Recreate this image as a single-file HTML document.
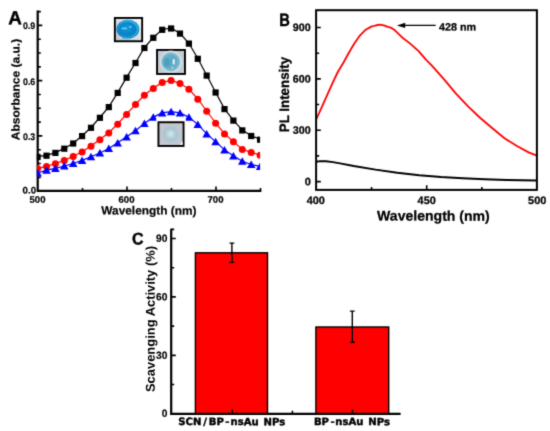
<!DOCTYPE html>
<html lang="en"><head><meta charset="utf-8"><title>Figure</title>
<style>html,body{margin:0;padding:0;background:#fff}svg{display:block}</style>
</head><body>
<svg width="550" height="431" viewBox="0 0 550 431">
<defs>
<clipPath id="clipA"><rect x="36.8" y="5" width="223.3" height="186.5"/></clipPath>
<radialGradient id="g1" cx="0.45" cy="0.4" r="0.6"><stop offset="0" stop-color="#1198d8"/><stop offset="0.7" stop-color="#0a84c8"/><stop offset="1" stop-color="#0a7cc0"/></radialGradient>
<radialGradient id="g2" cx="0.5" cy="0.5" r="0.5"><stop offset="0" stop-color="#52a8c6"/><stop offset="0.7" stop-color="#64aec8"/><stop offset="1" stop-color="#9cc2d2"/></radialGradient>
<radialGradient id="g3" cx="0.5" cy="0.5" r="0.5"><stop offset="0" stop-color="#d4e8ee"/><stop offset="0.6" stop-color="#a8c6d2"/><stop offset="1" stop-color="#c2c8d0"/></radialGradient>
<linearGradient id="bg1" x1="1" y1="0" x2="0" y2="1"><stop offset="0" stop-color="#f6f7f9"/><stop offset="0.5" stop-color="#dcdfe4"/><stop offset="1" stop-color="#c2c6ce"/></linearGradient>
<filter id="soft" x="-2%" y="-2%" width="104%" height="104%" color-interpolation-filters="sRGB"><feConvolveMatrix order="3" kernelMatrix="0.01960 0.10080 0.01960 0.10080 0.51840 0.10080 0.01960 0.10080 0.01960" divisor="1" edgeMode="duplicate" preserveAlpha="true"/></filter>
</defs>
<rect width="550" height="431" fill="#ffffff"/>
<g filter="url(#soft)">
<rect x="-5" y="-5" width="560" height="441" fill="#ffffff"/>
<g id="panelA">
<path d="M37.7,10.6 V191.9 M36.6,190.8 H261.3" stroke="#000" stroke-width="2.2" fill="none"/>
<path d="M37.7,177.34 H40.8 M37.7,163.53 H40.8 M37.7,149.71 H40.8 M37.7,135.90 H42.3 M37.7,122.09 H40.8 M37.7,108.28 H40.8 M37.7,94.46 H40.8 M37.7,80.65 H42.3 M37.7,66.84 H40.8 M37.7,53.03 H40.8 M37.7,39.21 H40.8 M37.7,25.40 H42.3 M37.7,11.59 H40.8 M82.50,190.8 V187.9 M127.00,190.8 V186.6 M171.50,190.8 V187.9 M216.00,190.8 V186.6 M260.50,190.8 V187.9" stroke="#000" stroke-width="1.6" fill="none"/>
<g clip-path="url(#clipA)">
<polyline points="37.6,156.7 46.5,155.4 55.4,152.6 64.3,148.4 73.2,143.2 82.1,135.8 91.0,127.5 99.9,117.5 108.8,106.8 117.7,92.6 126.6,77.4 135.5,62.7 144.4,47.7 153.3,37.5 162.2,29.5 171.1,28.2 180.0,33.3 188.9,43.3 197.8,58.5 206.7,75.3 215.6,92.2 224.5,108.8 233.4,120.3 242.3,130.1 251.2,135.7 260.1,139.4" fill="none" stroke="#000" stroke-width="1.2"/>
<rect x="34.50" y="153.90" width="6.2" height="6.2" fill="#000"/>
<rect x="43.40" y="152.60" width="6.2" height="6.2" fill="#000"/>
<rect x="52.30" y="149.80" width="6.2" height="6.2" fill="#000"/>
<rect x="61.20" y="145.60" width="6.2" height="6.2" fill="#000"/>
<rect x="70.10" y="140.40" width="6.2" height="6.2" fill="#000"/>
<rect x="79.00" y="133.00" width="6.2" height="6.2" fill="#000"/>
<rect x="87.90" y="124.70" width="6.2" height="6.2" fill="#000"/>
<rect x="96.80" y="114.70" width="6.2" height="6.2" fill="#000"/>
<rect x="105.70" y="104.00" width="6.2" height="6.2" fill="#000"/>
<rect x="114.60" y="89.80" width="6.2" height="6.2" fill="#000"/>
<rect x="123.50" y="74.60" width="6.2" height="6.2" fill="#000"/>
<rect x="132.40" y="59.90" width="6.2" height="6.2" fill="#000"/>
<rect x="141.30" y="44.90" width="6.2" height="6.2" fill="#000"/>
<rect x="150.20" y="34.70" width="6.2" height="6.2" fill="#000"/>
<rect x="159.10" y="26.70" width="6.2" height="6.2" fill="#000"/>
<rect x="168.00" y="25.40" width="6.2" height="6.2" fill="#000"/>
<rect x="176.90" y="30.50" width="6.2" height="6.2" fill="#000"/>
<rect x="185.80" y="40.50" width="6.2" height="6.2" fill="#000"/>
<rect x="194.70" y="55.70" width="6.2" height="6.2" fill="#000"/>
<rect x="203.60" y="72.50" width="6.2" height="6.2" fill="#000"/>
<rect x="212.50" y="89.40" width="6.2" height="6.2" fill="#000"/>
<rect x="221.40" y="106.00" width="6.2" height="6.2" fill="#000"/>
<rect x="230.30" y="117.50" width="6.2" height="6.2" fill="#000"/>
<rect x="239.20" y="127.30" width="6.2" height="6.2" fill="#000"/>
<rect x="248.10" y="132.90" width="6.2" height="6.2" fill="#000"/>
<rect x="257.00" y="136.60" width="6.2" height="6.2" fill="#000"/>
<polyline points="37.6,168.4 46.5,166.3 55.4,163.5 64.3,160.4 73.2,156.3 82.1,151.7 91.0,146.0 99.9,139.5 108.8,132.8 117.7,124.0 126.6,114.2 135.5,104.3 144.4,95.0 153.3,88.2 162.2,82.4 171.1,80.4 180.0,83.2 188.9,89.1 197.8,99.0 206.7,111.0 215.6,123.0 224.5,133.8 233.4,141.6 242.3,149.3 251.2,152.4 260.1,155.0" fill="none" stroke="#ff0000" stroke-width="1.2"/>
<circle cx="37.6" cy="168.6" r="3.5" fill="#ff0000"/>
<circle cx="46.5" cy="166.5" r="3.5" fill="#ff0000"/>
<circle cx="55.4" cy="163.7" r="3.5" fill="#ff0000"/>
<circle cx="64.3" cy="160.6" r="3.5" fill="#ff0000"/>
<circle cx="73.2" cy="156.5" r="3.5" fill="#ff0000"/>
<circle cx="82.1" cy="151.9" r="3.5" fill="#ff0000"/>
<circle cx="91.0" cy="146.2" r="3.5" fill="#ff0000"/>
<circle cx="99.9" cy="139.7" r="3.5" fill="#ff0000"/>
<circle cx="108.8" cy="133.0" r="3.5" fill="#ff0000"/>
<circle cx="117.7" cy="124.2" r="3.5" fill="#ff0000"/>
<circle cx="126.6" cy="114.4" r="3.5" fill="#ff0000"/>
<circle cx="135.5" cy="104.5" r="3.5" fill="#ff0000"/>
<circle cx="144.4" cy="95.2" r="3.5" fill="#ff0000"/>
<circle cx="153.3" cy="88.4" r="3.5" fill="#ff0000"/>
<circle cx="162.2" cy="82.6" r="3.5" fill="#ff0000"/>
<circle cx="171.1" cy="80.6" r="3.5" fill="#ff0000"/>
<circle cx="180.0" cy="83.4" r="3.5" fill="#ff0000"/>
<circle cx="188.9" cy="89.3" r="3.5" fill="#ff0000"/>
<circle cx="197.8" cy="99.2" r="3.5" fill="#ff0000"/>
<circle cx="206.7" cy="111.2" r="3.5" fill="#ff0000"/>
<circle cx="215.6" cy="123.2" r="3.5" fill="#ff0000"/>
<circle cx="224.5" cy="134.0" r="3.5" fill="#ff0000"/>
<circle cx="233.4" cy="141.8" r="3.5" fill="#ff0000"/>
<circle cx="242.3" cy="149.5" r="3.5" fill="#ff0000"/>
<circle cx="251.2" cy="152.6" r="3.5" fill="#ff0000"/>
<circle cx="260.1" cy="155.2" r="3.5" fill="#ff0000"/>
<polyline points="37.6,173.0 46.5,170.2 55.4,168.4 64.3,166.0 73.2,163.5 82.1,160.4 91.0,156.7 99.9,153.0 108.8,148.5 117.7,142.8 126.6,136.8 135.5,130.7 144.4,123.4 153.3,117.1 162.2,112.9 171.1,111.6 180.0,112.9 188.9,117.2 197.8,124.4 206.7,133.9 215.6,141.6 224.5,149.9 233.4,155.8 242.3,161.2 251.2,164.5 260.1,166.4" fill="none" stroke="#0000ff" stroke-width="1.2"/>
<polygon points="37.6,169.1 33.3,176.6 41.9,176.6" fill="#0000ff"/>
<polygon points="46.5,166.3 42.2,173.8 50.8,173.8" fill="#0000ff"/>
<polygon points="55.4,164.5 51.1,172.0 59.7,172.0" fill="#0000ff"/>
<polygon points="64.3,162.1 60.0,169.6 68.6,169.6" fill="#0000ff"/>
<polygon points="73.2,159.6 68.9,167.1 77.5,167.1" fill="#0000ff"/>
<polygon points="82.1,156.5 77.8,164.0 86.4,164.0" fill="#0000ff"/>
<polygon points="91.0,152.8 86.7,160.3 95.3,160.3" fill="#0000ff"/>
<polygon points="99.9,149.1 95.6,156.6 104.2,156.6" fill="#0000ff"/>
<polygon points="108.8,144.6 104.5,152.1 113.1,152.1" fill="#0000ff"/>
<polygon points="117.7,138.9 113.4,146.4 122.0,146.4" fill="#0000ff"/>
<polygon points="126.6,132.9 122.3,140.4 130.9,140.4" fill="#0000ff"/>
<polygon points="135.5,126.8 131.2,134.3 139.8,134.3" fill="#0000ff"/>
<polygon points="144.4,119.5 140.1,127.0 148.7,127.0" fill="#0000ff"/>
<polygon points="153.3,113.2 149.0,120.7 157.6,120.7" fill="#0000ff"/>
<polygon points="162.2,109.0 157.9,116.5 166.5,116.5" fill="#0000ff"/>
<polygon points="171.1,107.7 166.8,115.2 175.4,115.2" fill="#0000ff"/>
<polygon points="180.0,109.0 175.7,116.5 184.3,116.5" fill="#0000ff"/>
<polygon points="188.9,113.3 184.6,120.8 193.2,120.8" fill="#0000ff"/>
<polygon points="197.8,120.5 193.5,128.0 202.1,128.0" fill="#0000ff"/>
<polygon points="206.7,130.0 202.4,137.5 211.0,137.5" fill="#0000ff"/>
<polygon points="215.6,137.7 211.3,145.2 219.9,145.2" fill="#0000ff"/>
<polygon points="224.5,146.0 220.2,153.5 228.8,153.5" fill="#0000ff"/>
<polygon points="233.4,151.9 229.1,159.4 237.7,159.4" fill="#0000ff"/>
<polygon points="242.3,157.3 238.0,164.8 246.6,164.8" fill="#0000ff"/>
<polygon points="251.2,160.6 246.9,168.1 255.5,168.1" fill="#0000ff"/>
<polygon points="260.1,162.5 255.8,170.0 264.4,170.0" fill="#0000ff"/>
</g>
<rect x="112.7" y="15.8" width="31.6" height="27.6" fill="#fff"/>
<rect x="113.9" y="17.0" width="29.2" height="25.2" fill="#000"/>
<rect x="115.8" y="18.9" width="25.4" height="21.4" fill="url(#bg1)"/><ellipse cx="127.9" cy="29.2" rx="11.4" ry="9.4" fill="#0b6fb4"/><ellipse cx="128.1" cy="28.8" rx="10.8" ry="8.7" fill="#22b0e6"/><ellipse cx="127.3" cy="29.4" rx="9.4" ry="7.3" fill="url(#g1)"/><ellipse cx="124.3" cy="28.4" rx="3.0" ry="0.9" fill="#7fdcf4" opacity="0.85"/><ellipse cx="130.2" cy="26.9" rx="1.6" ry="0.8" fill="#7fdcf4" opacity="0.85"/><ellipse cx="126" cy="38.6" rx="5" ry="1" fill="#3cc0e8" opacity="0.6"/>
<rect x="154.9" y="47.8" width="32.2" height="28.3" fill="#fff"/>
<rect x="156.1" y="49.0" width="29.8" height="25.9" fill="#000"/>
<rect x="158" y="50.9" width="26" height="22.1" fill="#c2ccd5"/><circle cx="170.9" cy="61.8" r="11.2" fill="#d3dde4"/><circle cx="170.7" cy="61.8" r="9.6" fill="url(#g2)"/><ellipse cx="166.5" cy="62.5" rx="3" ry="4.5" fill="#3f98ba" opacity="0.55"/><rect x="172.7" y="59.0" width="2" height="5.6" rx="0.9" fill="#f2f8fb" opacity="0.95"/><rect x="171.6" y="66.6" width="1.4" height="2" rx="0.6" fill="#e8f2f6" opacity="0.8"/>
<rect x="156.3" y="117.9" width="29.4" height="30.2" fill="#fff"/>
<rect x="157.5" y="121.3" width="27.0" height="25.6" fill="#000"/>
<rect x="159.4" y="123.2" width="23.2" height="21.8" fill="#c4c7cf"/><circle cx="170.6" cy="134" r="9.8" fill="url(#g3)"/><path d="M179.5,145 L182.6,141 V145 Z" fill="#eceef2"/>
<text x="8.3" y="24.2" transform="rotate(0.03 8.3 24.2)" font-size="19" font-family="Liberation Sans, Arial, sans-serif" font-weight="bold" stroke="#000" stroke-width="0.4" textLength="13.6" lengthAdjust="spacingAndGlyphs">A</text>
<text x="23" y="29.3" transform="rotate(0.03 23 29.3)" font-size="9.5" font-family="Liberation Sans, Arial, sans-serif" font-weight="bold" stroke="#000" stroke-width="0.2" textLength="12.3" lengthAdjust="spacingAndGlyphs">0.9</text>
<text x="23" y="84.7" transform="rotate(0.03 23 84.7)" font-size="9.5" font-family="Liberation Sans, Arial, sans-serif" font-weight="bold" stroke="#000" stroke-width="0.2" textLength="12.3" lengthAdjust="spacingAndGlyphs">0.6</text>
<text x="23" y="139.9" transform="rotate(0.03 23 139.9)" font-size="9.5" font-family="Liberation Sans, Arial, sans-serif" font-weight="bold" stroke="#000" stroke-width="0.2" textLength="12.3" lengthAdjust="spacingAndGlyphs">0.3</text>
<text x="22.6" y="193.4" transform="rotate(0.03 22.6 193.4)" font-size="9.5" font-family="Liberation Sans, Arial, sans-serif" font-weight="bold" stroke="#000" stroke-width="0.2" textLength="13.4" lengthAdjust="spacingAndGlyphs">0.0</text>
<text x="29.5" y="202.8" transform="rotate(0.03 29.5 202.8)" font-size="9.4" font-family="Liberation Sans, Arial, sans-serif" font-weight="bold" stroke="#000" stroke-width="0.2" textLength="16.0" lengthAdjust="spacingAndGlyphs">500</text>
<text x="118.5" y="202.8" transform="rotate(0.03 118.5 202.8)" font-size="9.4" font-family="Liberation Sans, Arial, sans-serif" font-weight="bold" stroke="#000" stroke-width="0.2" textLength="16.0" lengthAdjust="spacingAndGlyphs">600</text>
<text x="207.5" y="202.8" transform="rotate(0.03 207.5 202.8)" font-size="9.4" font-family="Liberation Sans, Arial, sans-serif" font-weight="bold" stroke="#000" stroke-width="0.2" textLength="16.0" lengthAdjust="spacingAndGlyphs">700</text>
<text x="101.3" y="214.6" transform="rotate(0.03 101.3 214.6)" font-size="11.9" font-family="Liberation Sans, Arial, sans-serif" font-weight="bold" stroke="#000" stroke-width="0.2" textLength="95.2" lengthAdjust="spacingAndGlyphs">Wavelength (nm)</text>
<text transform="translate(19.6,140.3) rotate(-90.03)" font-size="11.4" font-family="Liberation Sans, Arial, sans-serif" font-weight="bold" stroke="#000" stroke-width="0.2" textLength="101.5" lengthAdjust="spacingAndGlyphs">Absorbance (a.u.)</text>
</g>
<g id="panelB">
<polyline points="316.2,161.7 320,161.1 326,161.2 333,162.1 340,163.4 353.7,166.0 375.5,169.6 397.3,172.7 419.2,175.2 441,177.0 462.8,178.3 484.7,179.2 506.5,180.0 536.9,180.5" fill="none" stroke="#000" stroke-width="1.9" stroke-linejoin="round"/>
<polyline points="316.2,119.5 321.1,108.7 326.7,96.2 332.3,83.7 337.8,72.0 343.4,62.8 349.0,52.5 354.5,43.3 360.1,35.3 365.7,29.7 371.2,26.6 375.5,25.5 379.6,24.7 383.8,25.4 387.9,26.9 391.5,27.9 394.9,30.3 401.9,37.2 410.2,43.6 418.6,51.1 425.5,59.2 432.1,65.8 444.1,79.4 456.2,93.9 468.3,106.6 480.3,118.0 492.4,128.3 504.5,138.2 516.5,145.8 528.6,152.4 536.9,155.7" fill="none" stroke="#ff0000" stroke-width="1.8" stroke-linejoin="round"/>
<rect x="316.1" y="10.2" width="220.8" height="179.7" fill="none" stroke="#000" stroke-width="2"/>
<path d="M316.1,181.60 H320.8 M316.1,155.91 H319.2 M316.1,130.23 H320.8 M316.1,104.55 H319.2 M316.1,78.86 H320.8 M316.1,53.18 H319.2 M316.1,27.49 H320.8 M371.55,189.9 V186.9 M426.70,189.9 V185.3 M481.85,189.9 V186.9" stroke="#000" stroke-width="1.6" fill="none"/>
<path d="M403.5,25.4 H435.7" stroke="#000" stroke-width="1.3" fill="none"/>
<polygon points="396.9,25.4 405.2,22.8 405.2,28" fill="#000"/>
<text x="438.9" y="30.5" transform="rotate(0.03 438.9 30.5)" font-size="10.6" font-family="Liberation Sans, Arial, sans-serif" font-weight="bold" stroke="#000" stroke-width="0.25" textLength="37.2" lengthAdjust="spacingAndGlyphs">428 nm</text>
<text x="279.3" y="25.6" transform="rotate(0.03 279.3 25.6)" font-size="18" font-family="Liberation Sans, Arial, sans-serif" font-weight="bold" stroke="#000" stroke-width="0.4" textLength="10.6" lengthAdjust="spacingAndGlyphs">B</text>
<text x="292.8" y="31.1" transform="rotate(0.03 292.8 31.1)" font-size="10.8" font-family="Liberation Sans, Arial, sans-serif" font-weight="bold" stroke="#000" stroke-width="0.25" textLength="17.9" lengthAdjust="spacingAndGlyphs">900</text>
<text x="292.8" y="82.5" transform="rotate(0.03 292.8 82.5)" font-size="10.8" font-family="Liberation Sans, Arial, sans-serif" font-weight="bold" stroke="#000" stroke-width="0.25" textLength="17.9" lengthAdjust="spacingAndGlyphs">600</text>
<text x="292.8" y="133.8" transform="rotate(0.03 292.8 133.8)" font-size="10.8" font-family="Liberation Sans, Arial, sans-serif" font-weight="bold" stroke="#000" stroke-width="0.25" textLength="17.9" lengthAdjust="spacingAndGlyphs">300</text>
<text x="304.8" y="185.3" transform="rotate(0.03 304.8 185.3)" font-size="10.8" font-family="Liberation Sans, Arial, sans-serif" font-weight="bold" stroke="#000" stroke-width="0.25" textLength="6.1" lengthAdjust="spacingAndGlyphs">0</text>
<text x="306.7" y="204.1" transform="rotate(0.03 306.7 204.1)" font-size="10.8" font-family="Liberation Sans, Arial, sans-serif" font-weight="bold" stroke="#000" stroke-width="0.25" textLength="18.2" lengthAdjust="spacingAndGlyphs">400</text>
<text x="417.6" y="204.1" transform="rotate(0.03 417.6 204.1)" font-size="10.8" font-family="Liberation Sans, Arial, sans-serif" font-weight="bold" stroke="#000" stroke-width="0.25" textLength="18.2" lengthAdjust="spacingAndGlyphs">450</text>
<text x="528.1" y="204.1" transform="rotate(0.03 528.1 204.1)" font-size="10.8" font-family="Liberation Sans, Arial, sans-serif" font-weight="bold" stroke="#000" stroke-width="0.25" textLength="18.2" lengthAdjust="spacingAndGlyphs">500</text>
<text x="377.1" y="220.6" transform="rotate(0.03 377.1 220.6)" font-size="14" font-family="Liberation Sans, Arial, sans-serif" font-weight="bold" stroke="#000" stroke-width="0.25" textLength="112.7" lengthAdjust="spacingAndGlyphs">Wavelength (nm)</text>
<text transform="translate(288.9,132.2) rotate(-90.03)" font-size="13.6" font-family="Liberation Sans, Arial, sans-serif" font-weight="bold" stroke="#000" stroke-width="0.35" textLength="75.3" lengthAdjust="spacingAndGlyphs">PL Intensity</text>
</g>
<g id="panelC">
<rect x="195.4" y="252.8" width="72.1" height="161.0" fill="#ff0000" stroke="#000" stroke-width="1.4"/>
<rect x="315.9" y="327.0" width="72.8" height="86.8" fill="#ff0000" stroke="#000" stroke-width="1.4"/>
<path d="M231.9,243.1 V262.4 M229.5,243.1 H234.3 M229.5,262.4 H234.3 M352.3,311.1 V342.2 M349.9,311.1 H354.7 M349.9,342.2 H354.7" stroke="#000" stroke-width="1.4" fill="none"/>
<path d="M171.2,228.8 V414.90000000000003 M170.1,413.8 H400.6" stroke="#000" stroke-width="2.2" fill="none"/>
<path d="M171.2,384.57 H174.2 M171.2,355.35 H175.8 M171.2,326.12 H174.2 M171.2,296.90 H175.8 M171.2,267.68 H174.2 M171.2,238.45 H175.8 M171.2,229.4 H174.2 M232.2,413.8 V409.6 M292.4,413.8 V410.8 M352.4,413.8 V409.6" stroke="#000" stroke-width="1.6" fill="none"/>
<text x="131.9" y="244.5" transform="rotate(0.03 131.9 244.5)" font-size="17" font-family="Liberation Sans, Arial, sans-serif" font-weight="bold" stroke="#000" stroke-width="0.45" textLength="11.5" lengthAdjust="spacingAndGlyphs">C</text>
<text x="156.1" y="241.8" transform="rotate(0.03 156.1 241.8)" font-size="10.3" font-family="Liberation Sans, Arial, sans-serif" font-weight="bold" stroke="#000" stroke-width="0.2" textLength="11.4" lengthAdjust="spacingAndGlyphs">90</text>
<text x="156.1" y="300.3" transform="rotate(0.03 156.1 300.3)" font-size="10.3" font-family="Liberation Sans, Arial, sans-serif" font-weight="bold" stroke="#000" stroke-width="0.2" textLength="11.4" lengthAdjust="spacingAndGlyphs">60</text>
<text x="156.1" y="358.8" transform="rotate(0.03 156.1 358.8)" font-size="10.3" font-family="Liberation Sans, Arial, sans-serif" font-weight="bold" stroke="#000" stroke-width="0.2" textLength="11.4" lengthAdjust="spacingAndGlyphs">30</text>
<text x="161.8" y="416.8" transform="rotate(0.03 161.8 416.8)" font-size="10.3" font-family="Liberation Sans, Arial, sans-serif" font-weight="bold" stroke="#000" stroke-width="0.2" textLength="5.7" lengthAdjust="spacingAndGlyphs">0</text>
<text x="178.2" y="425.1" transform="rotate(0.03 178.2 425.1)" dx="0 0 0 1.84 1.85 0 1.63 0.96 0 0 0 0 1.4 0 0" font-size="10.1" font-family="DejaVu Sans, Verdana, sans-serif" font-weight="bold" stroke="#000" stroke-width="0.4">SCN/BP-nsAu NPs</text>
<text x="313.9" y="425.1" transform="rotate(0.03 313.9 425.1)" dx="0 0 1.78 0.51 0 0 0 0 1.2 0 0" font-size="10.1" font-family="DejaVu Sans, Verdana, sans-serif" font-weight="bold" stroke="#000" stroke-width="0.4">BP-nsAu NPs</text>
<text transform="translate(154.7,392) rotate(-90.03)" font-size="12.8" font-family="Liberation Sans, Arial, sans-serif" font-weight="bold" textLength="146" lengthAdjust="spacingAndGlyphs">Scavenging Activity (%)</text>
</g>
</g>
</svg>
</body></html>
